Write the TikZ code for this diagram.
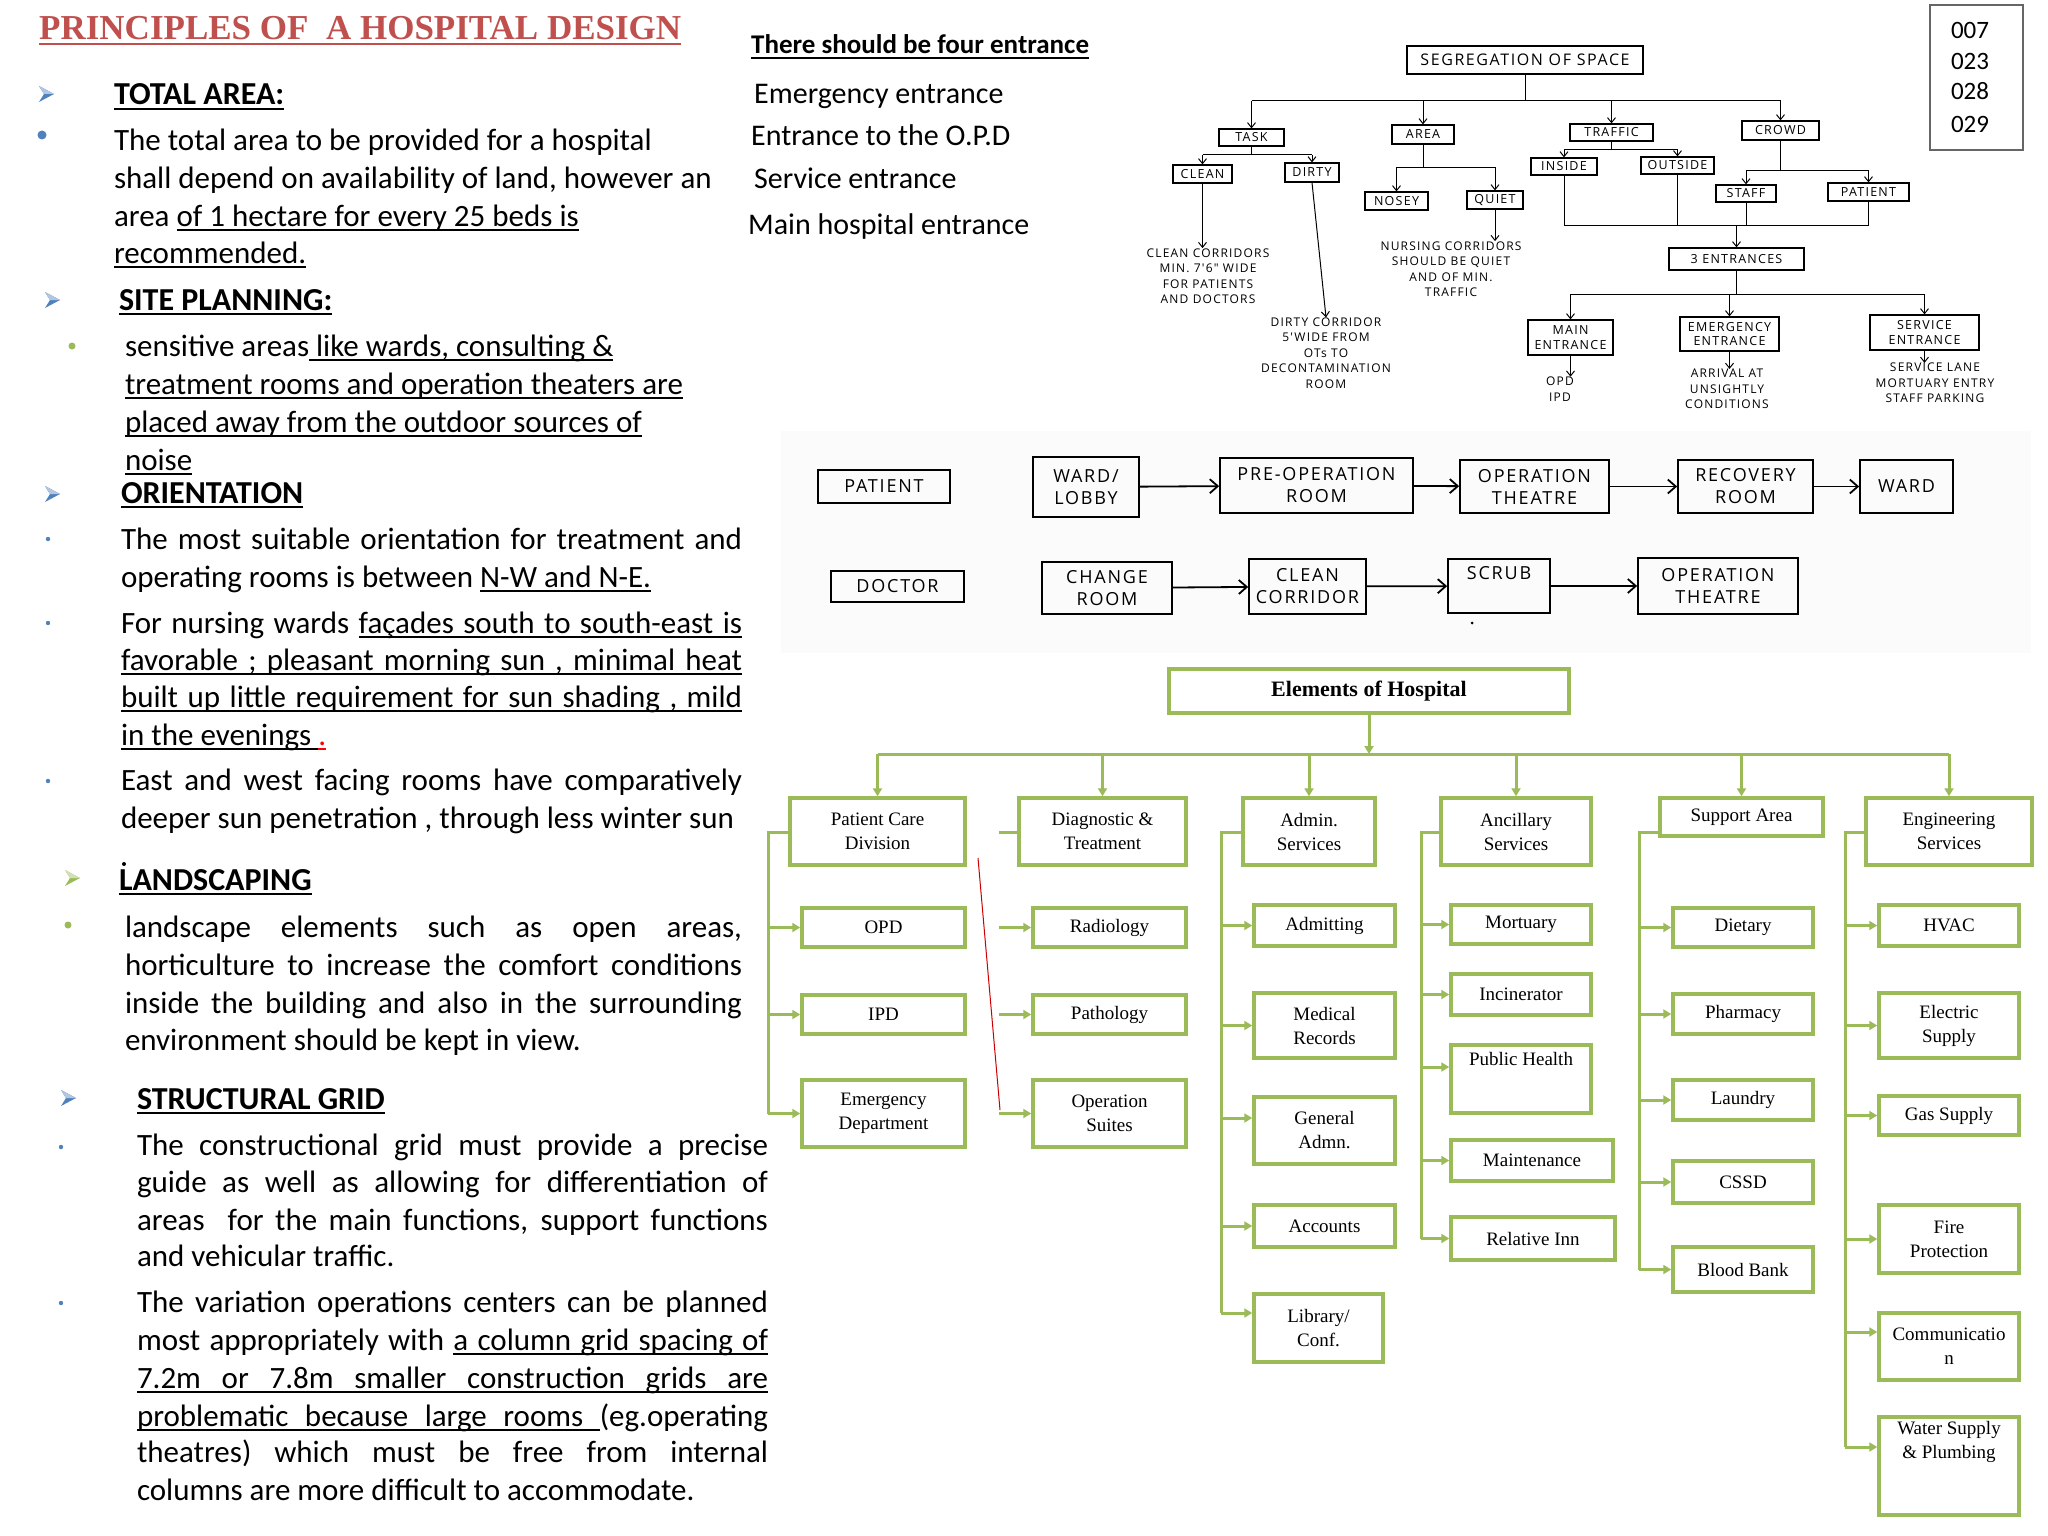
\documentclass[tikz,border=0pt]{standalone}
\usepackage{fontspec}
\setmainfont{Carlito}
\newfontfamily\tserif{Liberation Serif}
\newfontfamily\hand[LetterSpace=10]{Open Sans}
\usetikzlibrary{arrows.meta,calc}
\definecolor{gr}{HTML}{9BBB59}
\definecolor{tred}{HTML}{C0504D}
\definecolor{bl}{HTML}{4F81BD}
\newcommand\bodyf{\fontsize{31}{38}\selectfont}
\newcommand\headf{\fontsize{32}{38}\selectfont\bfseries}
% own underline tools
\newcommand\ulw[1]{\setbox0\hbox{#1}\rlap{\rule[-5pt]{\wd0}{1.6pt}}\box0}
\newcommand\ulsp{\leaders\hrule height -3.4pt depth 5pt\hskip\fontdimen2\font plus\fontdimen3\font minus\fontdimen4\font}
\def\ul#1{\ulA#1 \ulEnd}
\def\ulA#1 #2\ulEnd{\ulw{#1}\ifx\relax#2\relax\else\ulsp\ulA#2\ulEnd\fi}
\newcommand\GB[6]{\node[gbox,minimum width={#4-#2},minimum height={#5-#3}] (#1) at ({(#2+#4)/2},{(#3+#5)/2}) {#6};}
\newcommand\HB[6]{\node[hbox,minimum width={#4-#2},minimum height={#5-#3}] (#1) at ({(#2+#4)/2},{(#3+#5)/2}) {#6};}
\newcommand\FB[6]{\node[fbox,minimum width={#4-#2},minimum height={#5-#3}] (#1) at ({(#2+#4)/2},{(#3+#5)/2}) {#6};}
\newcommand\ABul[3]{\fill[#3] (#1-7,#2-8) -- (#1+8,#2) -- (#1-7,#2+8) -- (#1-2,#2) -- cycle;
  \fill[#3!45!white] (#1-7,#2-8) -- (#1+8,#2) -- (#1-2,#2) -- cycle;}
\begin{document}
\begin{tikzpicture}[x=1pt,y=-1pt,
  ln/.style={anchor=base west,inner sep=0pt,outer sep=0pt,font=\bodyf},
  hd/.style={anchor=base west,inner sep=0pt,outer sep=0pt,font=\headf},
  gbox/.style={draw=gr,line width=3.5pt,inner sep=1pt,align=center,font=\tserif\fontsize{19}{24}\selectfont},
  gtext/.style={inner sep=0pt,align=center,font=\tserif\fontsize{19}{24}\selectfont},
  gline/.style={draw=gr,line width=3pt},
  garrow/.style={draw=gr,line width=3pt,-{Triangle[length=8pt,width=9pt]}},
  hbox/.style={draw,line width=1.2pt,inner sep=0pt,align=center,font=\hand\fontsize{12.5}{14.5}\selectfont},
  htext/.style={inner sep=0pt,align=center,font=\hand\fontsize{12}{15.5}\selectfont},
  hl/.style={line width=1pt},
  harrow/.style={line width=1pt,-{Straight Barb[length=5pt,width=8pt]}},
  fbox/.style={draw,line width=1.7pt,inner sep=0pt,align=center,font=\hand\fontsize{18}{22}\selectfont},
  farrow/.style={line width=1.8pt,-{Straight Barb[length=8pt,width=14pt]}},
  lst/.style={anchor=base west,inner sep=0pt,font=\fontsize{30}{36}\selectfont},
  num/.style={anchor=base,inner sep=0pt,font=\fontsize{25}{30}\selectfont}
]
\useasboundingbox (0,0) rectangle (2048,1536);
\fill[white] (0,0) rectangle (2048,1536);
\fill[black!1.5] (781,431) rectangle (2031,653);

% ---------------- title ----------------
\node[anchor=base west,inner sep=0pt,text=tred,font=\tserif\bfseries\fontsize{35}{40}\selectfont] (title) at (39,40)
  {\ulw{PRINCIPLES OF\ \ A HOSPITAL DESIGN}};

% ---------------- left column ----------------
\ABul{46}{94}{bl}
\node[hd] (h1) at (114,105) {\ulw{TOTAL AREA:}};
\fill[bl] (42,135) circle (4.5pt);
\node[ln] (t1) at (114,150) {The total area to be provided for a hospital};
\node[ln] (t2) at (114,188) {shall depend on availability of land, however an};
\node[ln] (t3) at (114,226) {area \ul{of 1 hectare for every 25 beds is}};
\node[ln] (t4) at (114,263) {\ul{recommended.}};

\ABul{52}{300}{bl}
\node[hd] (h2) at (119,310) {\ulw{SITE PLANNING:}};
\fill[gr] (72,346) circle (3.5pt);
\node[ln] (s1) at (125,356) {sensitive areas\ul{ like wards, consulting \&}};
\node[ln] (s2) at (125,394) {\ul{treatment rooms and operation theaters are}};
\node[ln] (s3) at (125,432) {\ul{placed away from the outdoor sources of}};
\node[ln] (s4) at (125,470) {\ul{noise}};

\ABul{52}{494}{bl}
\node[hd] (h3) at (121,503) {\ulw{ORIENTATION}};
\fill[bl] (48,539) circle (2.2pt);
\node[ln] (o1) at (121,549) {\makebox[621pt][s]{The most suitable orientation for treatment and}};
\node[ln] (o2) at (121,587) {operating rooms is between \ul{N-W and N-E.}};
\fill[bl] (48,623) circle (2.2pt);
\node[ln] (o3) at (121,633) {\makebox[621pt][s]{For nursing wards \ul{façades south to south-east is}}};
\node[ln] (o4) at (121,670) {\makebox[621pt][s]{\ul{favorable ; pleasant morning sun , minimal heat}}};
\node[ln] (o5) at (121,707) {\makebox[621pt][s]{\ul{built up little requirement for sun shading , mild}}};
\node[ln] (o6) at (121,745) {\ul{in the evenings }{\color{red}\ulw{.}}};
\fill[bl] (48,781) circle (2.2pt);
\node[ln] (o7) at (121,790) {\makebox[621pt][s]{East and west facing rooms have comparatively}};
\node[ln] (o8) at (121,828) {deeper sun penetration , through less winter sun};

\ABul{72}{878}{gr}
\node[hd] (h4) at (119,890) {\ulw{LANDSCAPING}};
\fill (124,864) circle (2pt);
\fill[gr] (68,925) circle (3.5pt);
\node[ln] (l1) at (125,937) {\makebox[617pt][s]{landscape elements such as open areas,}};
\node[ln] (l2) at (125,975) {\makebox[617pt][s]{horticulture to increase the comfort conditions}};
\node[ln] (l3) at (125,1013) {\makebox[617pt][s]{inside the building and also in the surrounding}};
\node[ln] (l4) at (125,1050) {environment should be kept in view.};

\ABul{68}{1098}{bl}
\node[hd] (h5) at (137,1109) {\ulw{STRUCTURAL GRID}};
\fill[bl] (61,1147) circle (2.2pt);
\node[ln] (g1) at (137,1155) {\makebox[631pt][s]{The constructional grid must provide a precise}};
\node[ln] (g2) at (137,1192) {\makebox[631pt][s]{guide as well as allowing for differentiation of}};
\node[ln] (g3) at (137,1230) {\makebox[631pt][s]{areas\ \ for the main functions, support functions}};
\node[ln] (g4) at (137,1266) {and vehicular traffic.};
\fill[bl] (61,1303) circle (2.2pt);
\node[ln] (g5) at (137,1312) {\makebox[631pt][s]{The variation operations centers can be planned}};
\node[ln] (g6) at (137,1350) {\makebox[631pt][s]{most appropriately with \ul{a column grid spacing of}}};
\node[ln] (g7) at (137,1388) {\makebox[631pt][s]{\ul{7.2m or 7.8m smaller construction grids are}}};
\node[ln] (g8) at (137,1426) {\makebox[631pt][s]{\ul{problematic because large rooms }(eg.operating}};
\node[ln] (g9) at (137,1462) {\makebox[631pt][s]{theatres) which must be free from internal}};
\node[ln] (g10) at (137,1500) {columns are more difficult to accommodate.};

% ---------------- entrance list ----------------
\node[anchor=base west,inner sep=0pt,font=\bfseries\fontsize{27}{32}\selectfont] (e0) at (751,54) {\ulw{There should be four entrance}};
\node[lst] (e1) at (754,104) {Emergency entrance};
\node[lst] (e2) at (751,146) {Entrance to the O.P.D};
\node[lst] (e3) at (754,188) {Service entrance};
\node[lst] (e4) at (748,234) {Main hospital entrance};

% ---------------- number box ----------------
\node[draw=black!60,line width=2pt,minimum width=93,minimum height=145,inner sep=0pt] (nbox) at (1976.5,77.5) {};
\node[num] (n1) at (1970,39) {007};
\node[num] (n2) at (1970,70) {023};
\node[num] (n3) at (1970,100) {028};
\node[num] (n4) at (1970,132) {029};

% ---------------- hand-drawn tree ----------------
\node[hbox,minimum width=236,minimum height=28,font=\hand\fontsize{16}{18}\selectfont] (seg) at (1525,60) {SEGREGATION OF SPACE};
\HB{task}{1219}{129}{1284}{146}{TASK}
\HB{area}{1392}{125}{1454}{144}{AREA}
\HB{traf}{1570}{124}{1653}{141}{TRAFFIC}
\HB{crowd}{1742}{121}{1819}{140}{CROWD}
\HB{clean}{1173}{165}{1232}{183}{CLEAN}
\HB{dirty}{1285}{163}{1339}{182}{DIRTY}
\HB{nosey}{1365}{192}{1428}{210}{NOSEY}
\HB{quiet}{1467}{191}{1523}{209}{QUIET}
\HB{inside}{1531}{158}{1597}{175}{INSIDE}
\HB{outside}{1641}{157}{1714}{174}{OUTSIDE}
\HB{staff}{1716}{185}{1776}{202}{STAFF}
\HB{patt}{1828}{183}{1909}{201}{PATIENT}
\HB{ent3}{1669}{248}{1804}{270}{3 ENTRANCES}
\HB{mainE}{1528}{320}{1613}{355}{MAIN\\ENTRANCE}
\HB{emerE}{1680}{317}{1779}{351}{EMERGENCY\\ENTRANCE}
\HB{servE}{1870}{315}{1979}{350}{SERVICE\\ENTRANCE}

\node[htext] (cleant) at (1208,276) {CLEAN CORRIDORS\\MIN. 7'6" WIDE\\FOR PATIENTS\\AND DOCTORS};
\node[htext] (dirtyt) at (1326,353) {DIRTY CORRIDOR\\5'WIDE FROM\\OTs TO\\DECONTAMINATION\\ROOM};
\node[htext] (nurst) at (1451,269) {NURSING CORRIDORS\\SHOULD BE QUIET\\AND OF MIN.\\TRAFFIC};
\node[htext] (opdt) at (1560,389) {OPD\\IPD};
\node[htext] (arrt) at (1727,389) {ARRIVAL AT\\UNSIGHTLY\\CONDITIONS};
\node[htext] (servt) at (1935,383) {SERVICE LANE\\MORTUARY ENTRY\\STAFF PARKING};

\coordinate (b1) at (0,101);
\draw[hl] (seg.south) -- (seg.south |- b1);
\draw[hl] (task.north |- b1) -- (crowd.north |- b1);
\foreach \n in {task,area,traf,crowd} \draw[harrow] (\n.north |- b1) -- (\n.north);
\coordinate (tb) at (0,155);
\draw[hl] (task.south) -- (task.south |- tb) (clean.north |- tb) -- (dirty.north |- tb);
\draw[harrow] (clean.north |- tb) -- (clean.north);
\draw[harrow] (dirty.north |- tb) -- (dirty.north);
\draw[harrow] (clean.south) -- (clean.south |- cleant.north);
\draw[harrow] (dirty.south) -- (dirtyt.north);
\coordinate (ab) at (0,167);
\draw[hl] (area.south) -- (area.south |- ab) (nosey.north |- ab) -- (quiet.north |- ab);
\draw[harrow] (nosey.north |- ab) -- (nosey.north);
\draw[harrow] (quiet.north |- ab) -- (quiet.north);
\draw[harrow] (quiet.south) -- (quiet.south |- nurst.north);
\coordinate (trb) at (0,150);
\draw[hl] (traf.south) -- (traf.south |- trb) (inside.north |- trb) -- (outside.north |- trb);
\draw[harrow] (inside.north |- trb) -- (inside.north);
\draw[harrow] (outside.north |- trb) -- (outside.north);
\coordinate (cb) at (0,170);
\draw[hl] (crowd.south) -- (crowd.south |- cb) (staff.north |- cb) -- (patt.north |- cb);
\draw[harrow] (staff.north |- cb) -- (staff.north);
\draw[harrow] (patt.north |- cb) -- (patt.north);
\coordinate (jb) at (0,225);
\draw[hl] (inside.south) -- (inside.south |- jb) -- (patt.south |- jb) -- (patt.south);
\draw[hl] (outside.south) -- (outside.south |- jb) (staff.south) -- (staff.south |- jb);
\draw[harrow] (ent3.north |- jb) -- (ent3.north);
\coordinate (eb) at (0,294);
\draw[hl] (ent3.south) -- (ent3.south |- eb) (mainE.north |- eb) -- (servE.north |- eb);
\foreach \n in {mainE,emerE,servE} \draw[harrow] (\n.north |- eb) -- (\n.north);
\draw[harrow] (mainE.south) -- (mainE.south |- opdt.north);
\draw[harrow] (emerE.south) -- (emerE.south |- arrt.north);
\draw[harrow] (servE.south) -- (servE.south |- servt.north);

% ---------------- flow rows ----------------
\FB{pat}{818}{470}{950}{503}{PATIENT}
\FB{ward1}{1033}{457}{1139}{517}{WARD/\\LOBBY}
\FB{preop}{1220}{458}{1413}{513}{PRE-OPERATION\\ROOM}
\FB{ot1}{1460}{460}{1609}{513}{OPERATION\\THEATRE}
\FB{rec}{1678}{460}{1813}{513}{RECOVERY\\ROOM}
\FB{ward2}{1860}{460}{1953}{513}{WARD}
\draw[farrow] (ward1) -- (preop);
\draw[farrow] (preop) -- (ot1);
\draw[farrow] (ot1) -- (rec);
\draw[farrow] (rec) -- (ward2);
\FB{doc}{831}{571}{964}{602}{DOCTOR}
\FB{chg}{1042}{562}{1172}{614}{CHANGE\\ROOM}
\FB{ccor}{1249}{559}{1366}{614}{CLEAN\\CORRIDOR}
\FB{scrub}{1448}{559}{1550}{613}{}
\node[inner sep=0pt,font=\hand\fontsize{18}{22}\selectfont] (scrubt) at (1499,573) {SCRUB};
\FB{ot2}{1638}{558}{1798}{614}{OPERATION\\THEATRE}
\draw[farrow] (chg) -- (ccor);
\draw[farrow] (ccor) -- (scrub);
\draw[farrow] (scrub) -- (ot2);
\fill (1472,623) circle (1.5pt);

% ---------------- elements of hospital ----------------
\node[gbox,minimum width=400,minimum height=44,font=\tserif\bfseries\fontsize{22}{26}\selectfont] (elem) at (1369,691) {Elements of Hospital};
\GB{pcd}{790}{798}{965}{865}{Patient Care\\Division}
\GB{dt}{1019}{798}{1186}{865}{Diagnostic \&\\Treatment}
\GB{adm}{1243}{798}{1375}{865}{Admin.\\Services}
\GB{anc}{1441}{798}{1591}{865}{Ancillary\\Services}
\GB{sup}{1660}{798}{1823}{836}{Support Area}
\GB{eng}{1866}{798}{2032}{865}{Engineering\\Services}
\coordinate (bus) at (0,754);
\draw[garrow] (elem.south) -- (elem.south |- bus);
\draw[gline] (pcd.north |- bus) -- (eng.north |- bus);
\foreach \n in {pcd,dt,adm,anc,sup,eng} \draw[garrow] (\n.north |- bus) -- (\n.north);

% patient care
\GB{opd}{802}{908}{965}{947}{OPD}
\GB{ipd}{802}{995}{965}{1034}{IPD}
\GB{emd}{802}{1080}{965}{1147}{Emergency\\Department}
\draw[gline] (pcd.west |- 0,832) -- (768,832) -- (768,1113.5);
\foreach \n in {opd,ipd,emd} \draw[garrow] (768,0 |- \n.west) -- (\n.west);

% diagnostic
\GB{rad}{1033}{908}{1186}{947}{Radiology}
\GB{path}{1033}{995}{1186}{1034}{Pathology}
\GB{ops}{1033}{1080}{1186}{1147}{Operation\\Suites}
\draw[gline] (999,832) -- (dt.west |- 0,832);
\foreach \n in {rad,path,ops} \draw[garrow] (999,0 |- \n.west) -- (\n.west);
\draw[red!80!black,line width=1pt] (978,858) -- (1000,1110);

% admin
\GB{admt}{1254}{905}{1395}{946}{Admitting}
\GB{medr}{1254}{993}{1395}{1058}{Medical\\Records}
\GB{gena}{1254}{1097}{1395}{1164}{General\\Admn.}
\GB{acc}{1254}{1205}{1395}{1247}{Accounts}
\GB{lib}{1254}{1294}{1383}{1362}{Library/\\Conf.}
\draw[gline] (adm.west |- 0,832) -- (1221,832) -- (1221,1313);
\foreach \n in {admt,medr,acc} \draw[garrow] (1221,0 |- \n.west) -- (\n.west);
\draw[garrow] (1221,1118) -- (gena.west |- 0,1118);
\draw[garrow] (1221,1313) -- (lib.west |- 0,1313);

% ancillary
\GB{mort}{1451}{905}{1591}{944}{Mortuary}
\GB{inc}{1451}{974}{1591}{1015}{Incinerator}
\GB{pubh}{1451}{1045}{1591}{1113}{}
\node[gtext,anchor=north] (pubht) at ([yshift=-9pt]pubh.north) {Public Health};
\GB{mnt}{1451}{1140}{1613}{1181}{Maintenance}
\GB{rinn}{1451}{1217}{1615}{1260}{Relative Inn}
\draw[gline] (anc.west |- 0,832) -- (1421,832) -- (1421,1238.5);
\foreach \n in {mort,inc,mnt,rinn} \draw[garrow] (1421,0 |- \n.west) -- (\n.west);
\draw[garrow] (1421,1067) -- (pubh.west |- 0,1067);

% support
\GB{diet}{1673}{908}{1813}{947}{Dietary}
\GB{phar}{1673}{994}{1813}{1034}{Pharmacy}
\GB{laun}{1673}{1080}{1813}{1120}{Laundry}
\GB{cssd}{1673}{1161}{1813}{1203}{CSSD}
\GB{bb}{1673}{1247}{1813}{1292}{Blood Bank}
\draw[gline] (sup.west |- 0,832) -- (1639,832) -- (1639,1269.5);
\foreach \n in {diet,phar,laun,cssd,bb} \draw[garrow] (1639,0 |- \n.west) -- (\n.west);

% engineering
\GB{hvac}{1879}{905}{2019}{946}{HVAC}
\GB{elec}{1879}{993}{2019}{1058}{Electric\\Supply}
\GB{gas}{1879}{1096}{2019}{1135}{Gas Supply}
\GB{fire}{1879}{1205}{2019}{1273}{Fire\\Protection}
\GB{comm}{1879}{1313}{2019}{1380}{Communicatio\\n}
\GB{water}{1879}{1417}{2019}{1515}{}
\node[gtext,anchor=north] (watert) at ([yshift=-6pt]water.north) {Water Supply\\\& Plumbing};
\draw[gline] (eng.west |- 0,832) -- (1845,832) -- (1845,1447);
\foreach \n in {hvac,elec,gas,fire} \draw[garrow] (1845,0 |- \n.west) -- (\n.west);
\draw[garrow] (1845,1332) -- (comm.west |- 0,1332);
\draw[garrow] (1845,1447) -- (water.west |- 0,1447);
\end{tikzpicture}
\end{document}
